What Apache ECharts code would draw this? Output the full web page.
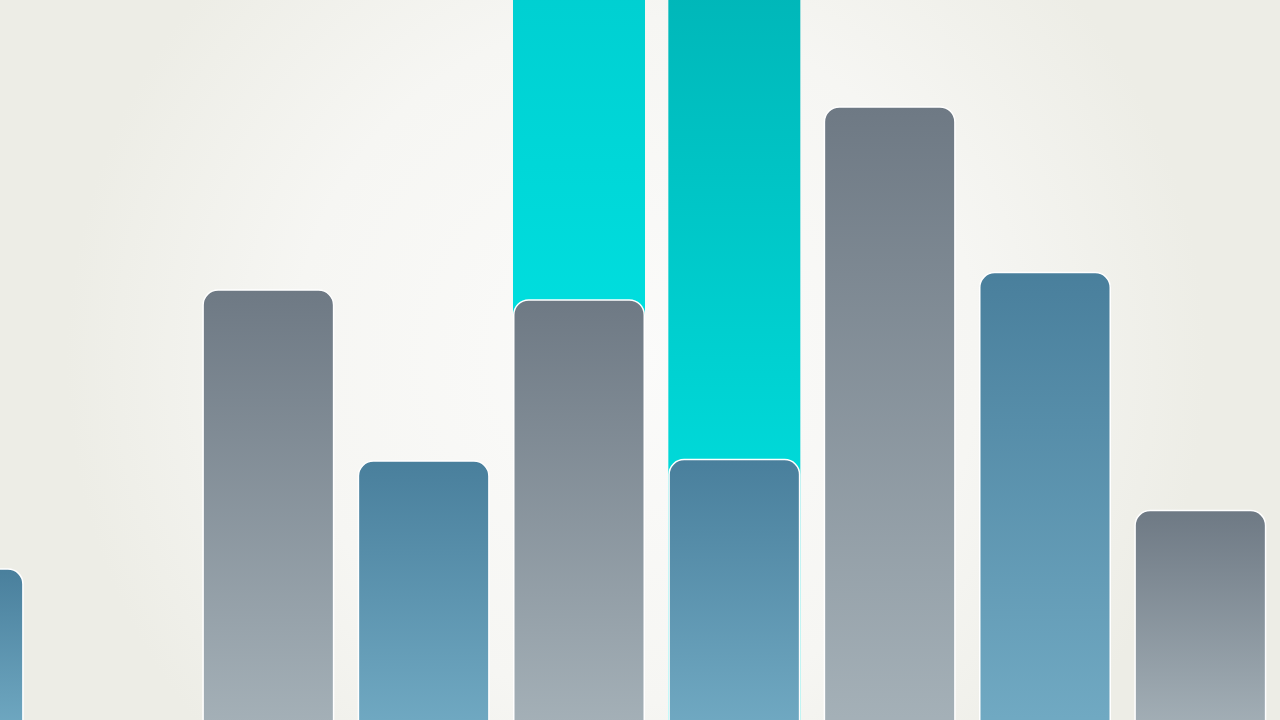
<!DOCTYPE html>
<html>
<head>
<meta charset="utf-8">
<script src="https://cdn.jsdelivr.net/npm/echarts@6/dist/echarts.min.js"></script>
<style>
  html, body { margin: 0; padding: 0; overflow: hidden; width: 1280px; height: 720px; }
  /* chart box is wider/taller than the window so the outer bars run off the edges */
  #main { width: 1400px; height: 760px; margin-left: -120px; margin-top: -20px; }
</style>
</head>
<body>
<div id="main"></div>
<script>
// categories (no labels shown in the picture)
var categories = ['A', 'B', 'C', 'D', 'E', 'F', 'G', 'H', 'I'];
// main bar heights
var barValues = [22.6, 0, 59.3, 36.8, 58.0, 37.0, 83.4, 61.6, 30.3];
// which bars are blue (1) or gray (0)
var barTone = [1, 0, 0, 1, 0, 1, 0, 1, 0];
// highlight columns drawn behind the bars
var highlightValues = [null, null, null, null, 100, 100, null, null, null];

var gray = new echarts.graphic.LinearGradient(0, 0, 0, 1, [
    {offset: 0, color: '#6e7984'},
    {offset: 1, color: '#a6b2b9'}
]);
var blue = new echarts.graphic.LinearGradient(0, 0, 0, 1, [
    {offset: 0, color: '#497f9c'},
    {offset: 1, color: '#72abc4'}
]);
var cyanA = new echarts.graphic.LinearGradient(0, 0, 0, 1, [
    {offset: 0, color: '#00cfd1'},
    {offset: 1, color: '#00f0ee'}
]);
var cyanB = new echarts.graphic.LinearGradient(0, 0, 0, 1, [
    {offset: 0, color: '#00b6b8'},
    {offset: 1, color: '#00ecea'}
]);

var mainData = barValues.map(function (v, i) {
    return {
        value: v,
        itemStyle: { color: barTone[i] ? blue : gray }
    };
});
var cyanIdx = 0;
var hiData = highlightValues.map(function (v) {
    if (v === null) return null;
    var c = cyanIdx++ === 0 ? cyanA : cyanB;
    return { value: v, itemStyle: { color: c } };
});

var chart = echarts.init(document.getElementById('main'));
var option = {
    backgroundColor: new echarts.graphic.RadialGradient(0.54, 0.5, 0.75, [
        {offset: 0, color: '#fbfbfa'},
        {offset: 0.6, color: '#f6f6f3'},
        {offset: 1, color: '#ededE6'}
    ]),
    animation: false,
    grid: {
        left: 0,
        right: 2,
        top: 0,
        bottom: 0
    },
    xAxis: {
        type: 'category',
        data: categories,
        show: false
    },
    yAxis: {
        type: 'value',
        min: 0,
        max: 100,
        show: false
    },
    series: [
        {
            name: 'highlight',
            type: 'bar',
            barWidth: 132,
            barGap: '-100%',
            z: 1,
            data: hiData
        },
        {
            name: 'bars',
            type: 'bar',
            barWidth: 132,
            z: 2,
            itemStyle: {
                borderRadius: 15,
                borderColor: '#ffffff',
                borderWidth: 1.5
            },
            data: mainData
        }
    ]
};
chart.setOption(option);
</script>
</body>
</html>
